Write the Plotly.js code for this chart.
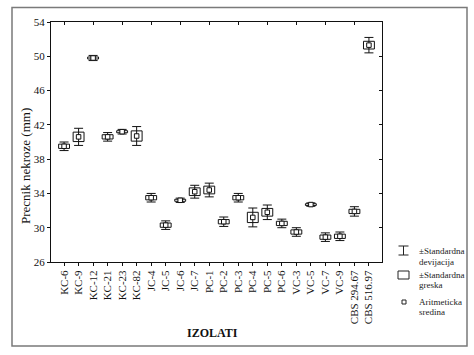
<!DOCTYPE html>
<html>
<head>
<meta charset="utf-8">
<script src="https://cdn.plot.ly/plotly-3.0.1.min.js"></script>
<style>html,body{margin:0;padding:0;background:#fff;}#chart{width:474px;height:355px;}</style>
</head>
<body>
<div id="chart"></div>
<script>
// ---- data ----
const categories = ["KC-6","KC-9","KC-12","KC-21","KC-23","KC-82","JC-4","JC-5","JC-6","JC-7","PC-1","PC-2","PC-3","PC-4","PC-5","PC-6","VC-3","VC-5","VC-7","VC-9","CBS 294.67","CBS 516.97"];
const means   = [39.5, 40.6, 49.8, 40.6, 41.2, 40.7, 33.5, 30.3, 33.2, 34.2, 34.4, 30.7, 33.5, 31.2, 31.8, 30.5, 29.5, 32.7, 28.9, 29.0, 31.9, 51.3];
const seHalf  = [0.25, 0.55, 0.12, 0.25, 0.12, 0.6, 0.25, 0.25, 0.12, 0.45, 0.45, 0.25, 0.25, 0.6, 0.45, 0.25, 0.25, 0.1, 0.25, 0.25, 0.25, 0.45];
const sdHalf  = [0.5, 1.0, 0.3, 0.5, 0.27, 1.1, 0.5, 0.5, 0.25, 0.75, 0.8, 0.55, 0.5, 1.1, 0.85, 0.5, 0.5, 0.2, 0.5, 0.5, 0.55, 0.9];
const yTicks  = [26, 30, 34, 38, 42, 46, 50, 54];
const xTitle  = "IZOLATI";
const yTitle  = "Precnik nekroze (mm)";
const legendLabels = [["±Standardna","devijacija"],["±Standardna","greska"],["Aritmeticka","sredina"]];

// ---- geometry helpers for decoration (frame, titles, legend) ----
const L = 51, R = 382, T = 22, B = 262;
const px = v => (v - L) / (R - L);
const py = v => (B - v) / (B - T);
const serif = "Liberation Serif, Times New Roman, serif";
const ink = "#111111";

const seBox = {
  type: "bar", x: categories,
  base: means.map((m, i) => m - seHalf[i]),
  y: seHalf.map(s => 2 * s),
  width: 0.75,
  marker: {color: "#ffffff", line: {color: ink, width: 1}},
  hoverinfo: "skip", showlegend: false
};
const meanPts = {
  type: "scatter", mode: "markers", x: categories, y: means,
  error_y: {type: "data", array: sdHalf, symmetric: true, color: ink, thickness: 1, width: 4.5},
  marker: {symbol: "square", size: 4.5, color: "#ffffff", line: {color: ink, width: 1}},
  showlegend: false
};
const mirrorDummy = {
  type: "scatter", mode: "markers", x: categories, y: categories.map(() => null),
  xaxis: "x2", yaxis: "y2", showlegend: false, hoverinfo: "skip"
};

const shapes = [
  // outer frame
  {type: "rect", xref: "paper", yref: "paper", x0: px(12), x1: px(467), y0: py(346), y1: py(7.5),
   line: {color: "#7a7a7a", width: 1.5}, fillcolor: "rgba(0,0,0,0)", layer: "below"},
  // legend: SD whisker symbol
  {type: "line", xref: "paper", yref: "paper", x0: px(403.5), x1: px(403.5), y0: py(246), y1: py(255), line: {color: "#222", width: 1}},
  {type: "line", xref: "paper", yref: "paper", x0: px(398.5), x1: px(408.5), y0: py(246), y1: py(246), line: {color: "#222", width: 1}},
  {type: "line", xref: "paper", yref: "paper", x0: px(398.5), x1: px(408.5), y0: py(255), y1: py(255), line: {color: "#222", width: 1}},
  // legend: SE box
  {type: "rect", xref: "paper", yref: "paper", x0: px(398), x1: px(409), y0: py(279), y1: py(271), line: {color: "#222", width: 1}},
  // legend: mean marker
  {type: "rect", xref: "paper", yref: "paper", x0: px(402), x1: px(406), y0: py(304), y1: py(300), line: {color: "#222", width: 1}}
];

const legendY = [[251, 262], [275, 285], [302, 312]];
const annotations = [
  {xref: "paper", yref: "paper", x: px(212), y: py(333), xanchor: "center", yanchor: "middle",
   text: "<b>" + xTitle + "</b>", showarrow: false, font: {family: serif, size: 12, color: ink}},
  {xref: "paper", yref: "paper", x: px(25), y: py(166), xanchor: "center", yanchor: "middle",
   text: yTitle, textangle: -90, showarrow: false, font: {family: serif, size: 13, color: ink}}
];
legendLabels.forEach((pair, i) => {
  pair.forEach((t, j) => {
    annotations.push({xref: "paper", yref: "paper", x: px(417), y: py(legendY[i][j]),
      xanchor: "left", yanchor: "middle", text: t, showarrow: false,
      font: {family: serif, size: 9, color: "#222"}});
  });
});

const layout = {
  width: 474, height: 355,
  margin: {l: L, r: 474 - R, t: T, b: 355 - B, pad: 0},
  paper_bgcolor: "#ffffff", plot_bgcolor: "#ffffff",
  barmode: "overlay", showlegend: false,
  font: {family: serif, color: ink},
  xaxis: {
    type: "category", range: [-0.9, 21.9], showgrid: false, zeroline: false,
    showline: true, linecolor: ink, linewidth: 1,
    ticks: "outside", ticklen: 3, tickcolor: ink, tickangle: -90,
    tickfont: {family: serif, size: 11, color: ink},
    automargin: false, fixedrange: true
  },
  yaxis: {
    range: [26, 54], tickvals: yTicks, showgrid: false, zeroline: false,
    showline: true, linecolor: ink, linewidth: 1,
    ticks: "outside", ticklen: 3, tickcolor: ink,
    tickfont: {family: serif, size: 11, color: ink},
    automargin: false, fixedrange: true
  },
  xaxis2: {
    type: "category", overlaying: "x", side: "top", anchor: "y2", range: [-0.9, 21.9],
    showgrid: false, zeroline: false, showline: true, linecolor: ink, linewidth: 1,
    ticks: "inside", ticklen: 3, tickcolor: ink, showticklabels: false, fixedrange: true
  },
  yaxis2: {
    overlaying: "y", side: "right", anchor: "x2", range: [26, 54], tickvals: yTicks,
    showgrid: false, zeroline: false, showline: true, linecolor: ink, linewidth: 1,
    ticks: "inside", ticklen: 3, tickcolor: ink, showticklabels: false, fixedrange: true
  },
  shapes: shapes,
  annotations: annotations
};

Plotly.newPlot("chart", [seBox, meanPts, mirrorDummy], layout, {displayModeBar: false, staticPlot: true});
</script>
</body>
</html>
